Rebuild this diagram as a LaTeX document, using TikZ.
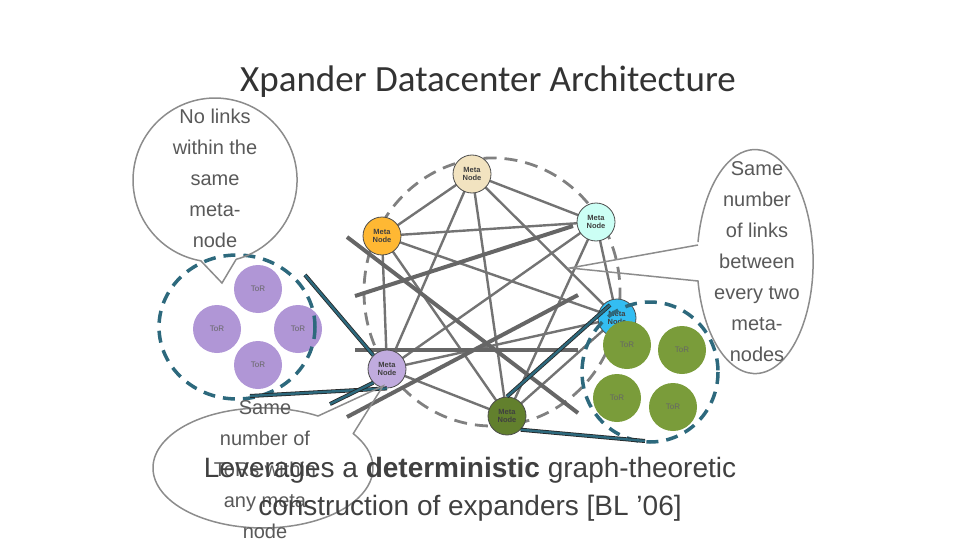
\documentclass[tikz,border=0pt]{standalone}
\usepackage{fontspec}
\setmainfont{Carlito}
\newfontfamily\bodyf{Liberation Sans}
\definecolor{tealc}{RGB}{45,105,125}
\definecolor{olive}{RGB}{122,156,58}
\definecolor{oliveD}{RGB}{98,128,45}
\definecolor{lav}{RGB}{176,150,214}
\begin{document}
\begin{tikzpicture}[x=1pt,y=-1pt,
 meta/.style={circle,minimum size=38pt,inner sep=0pt,draw=black!70,line width=0.8pt,font=\bodyf\fontsize{7.5}{8}\selectfont\bfseries,align=center,text=black!75},
 tor/.style={circle,minimum size=48pt,inner sep=0pt,font=\bodyf\fontsize{8}{9}\selectfont,text=black!60},
 kedge/.style={draw=black!55,line width=2.4pt},
 thick/.style={draw=black!60,line width=4pt},
 teal/.style={draw=black!85,line width=4pt,postaction={draw=tealc,line width=2.4pt}},
 clus/.style={draw=tealc,line width=3.5pt,dash pattern=on 12pt off 8pt},
 bubble/.style={draw=black!45,line width=1.5pt},
 btext/.style={font=\bodyf\fontsize{20}{31}\selectfont,text=black!65,align=center}]
\useasboundingbox (0,0) rectangle (960,540);
\node[font=\fontsize{37}{40}\selectfont,text=black!80] (title) at (488,82) {Xpander Datacenter Architecture};
% dashed ring
\draw[black!50,line width=2.8pt,dash pattern=on 13pt off 8pt] (492,292) ellipse (128 and 134);
\coordinate (pA) at (472,174);
\coordinate (pB) at (382,236);
\coordinate (pC) at (596,222);
\coordinate (pD) at (617,318);
\coordinate (pE) at (387,369);
\coordinate (pF) at (507,416);
\foreach \a/\b in {pA/pB,pA/pC,pA/pD,pA/pE,pA/pF,pB/pC,pB/pD,pB/pE,pB/pF,pC/pD,pC/pE,pC/pF,pD/pE,pD/pF,pE/pF}
  \draw[kedge] (\a) -- (\b);
\coordinate (t1a) at (347,237); \coordinate (t1b) at (578,413);
\coordinate (t2a) at (355,296); \coordinate (t2b) at (573,226);
\coordinate (t3a) at (355,350); \coordinate (t3b) at (578,350);
\coordinate (t4a) at (347,417); \coordinate (t4b) at (578,295);
\draw[thick] (t1a) -- (t1b); \draw[thick] (t2a) -- (t2b);
\draw[thick] (t3a) -- (t3b); \draw[thick] (t4a) -- (t4b);
\node[meta,fill=yellow!25!brown!30] (A) at (pA) {Meta\\Node};
\node[meta,fill=orange!70!yellow!80] (B) at (pB) {Meta\\Node};
\node[meta,fill=green!20!cyan!20] (C) at (pC) {Meta\\Node};
\node[meta,fill=cyan!80] (D) at (pD) {Meta\\Node};
\node[meta,fill=lav!80] (E) at (pE) {Meta\\Node};
\node[meta,fill=oliveD] (F) at (pF) {Meta\\Node};
\node[tor,fill=lav] (L1) at (258,289) {ToR};
\node[tor,fill=lav] (L2) at (217,329) {ToR};
\node[tor,fill=lav] (L3) at (298,329) {ToR};
\node[tor,fill=lav] (L4) at (258,365) {ToR};
\draw[clus] (237,327) ellipse (78 and 72);
\node[tor,fill=olive] (R1) at (627,345) {ToR};
\node[tor,fill=olive] (R2) at (682,350) {ToR};
\node[tor,fill=olive] (R3) at (617,398) {ToR};
\node[tor,fill=olive] (R4) at (673,407) {ToR};
\draw[clus] (650,372) ellipse (68 and 70);
\coordinate (lc1) at (305,275); \coordinate (lc2) at (250,396);
\coordinate (rc1) at (610,305); \coordinate (rc2) at (645,441);
\coordinate (tl) at (330,404);
\draw[teal] (lc1) -- (E.north west);
\draw[teal] (lc2) -- (E.south);
\draw[teal] (E.south west) -- (tl);
\draw[teal] (F.north) -- (rc1);
\draw[teal] (F.south east) -- (rc2);
% bubbles
\draw[bubble] (236.2,259.2) -- (222,283) -- (200.8,260.8)
  arc[start angle=100,end angle=435,radius=82];
\node[btext] (b1) at (215,178) {No links\\within the\\same\\meta-\\node};
\draw[bubble] (698,245) -- (570,268) -- (698,281)
  arc[start angle=170,end angle=-170,x radius=58,y radius=112];
\node[btext] (b2) at (757,262) {Same\\number\\of links\\between\\every two\\meta-\\nodes};
\draw[bubble] (353,434) -- (383,386) -- (318,416)
  arc[start angle=-60,end angle=-395,x radius=110,y radius=60];
\node[btext] (b3) at (265,470) {Same\\number of\\ToRs within\\any meta\\node};
\node[font=\bodyf\fontsize{28}{38}\selectfont,text=black!75,align=center] (bt) at (470,489) {Leverages a \textbf{deterministic} graph-theoretic\\construction of expanders [BL ’06]};
\end{tikzpicture}
\end{document}
